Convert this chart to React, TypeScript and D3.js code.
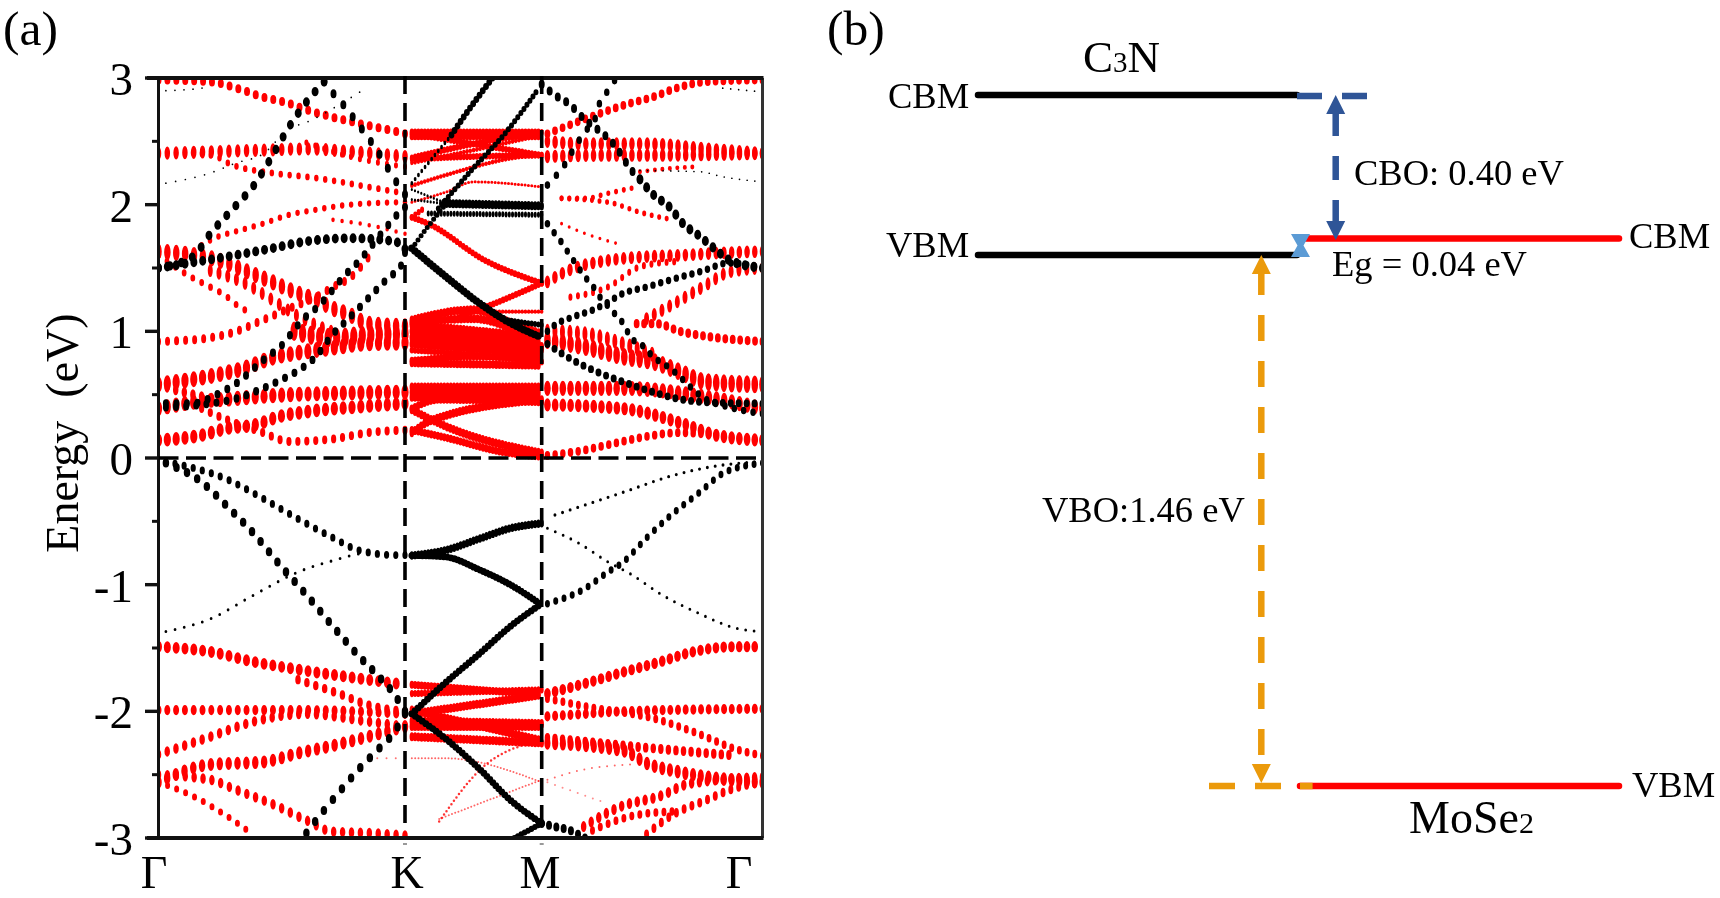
import React from "react";
import * as d3 from "d3";

type P = [number, number][];
const RED = "#ff0000";
const BLK = "#000000";

// ---------- Band values: [fraction along the path segment, energy in eV] ----------
// Gamma -> K, conduction side, red
const gkR1: P = [[0,2.985],[.21,2.97],[.316,2.92],[.424,2.85],[.53,2.8],[.6,2.75],[.708,2.69],[.816,2.64],[.958,2.58],[1,2.56]];
const gkR2: P = [[0,2.405],[.424,2.43],[.6,2.44],[.776,2.42],[1,2.38]];
const gkR3: P = [[.14,2.41],[.245,2.37],[.28,2.33],[.46,2.25],[.6,2.22],[.708,2.19],[.85,2.14],[1,2.09]];
const gkR4: P = [[.175,1.68],[.245,1.75],[.316,1.79],[.424,1.85],[.53,1.92],[.638,1.96],[.776,2.0],[1,2.02]];
const gkR5: P = [[.708,1.88],[.85,1.84],[1,1.77]];
const gkR6: P = [[0,1.63],[.245,1.56],[.35,1.48],[.46,1.39],[.566,1.3],[.638,1.25],[.708,1.18],[.776,1.13],[.85,1.06],[1,1.04]];
const gkR7: P = [[0,1.6],[.14,1.42],[.21,1.35],[.28,1.27],[.316,1.21],[.35,1.17]];
const gkR8: P = [[0,.92],[.175,.94],[.316,1.0],[.424,1.09],[.53,1.18],[.638,1.27],[.708,1.35],[.776,1.42],[.85,1.58]];
const gkR9: P = [[0,.58],[.245,.66],[.35,.71],[.46,.79],[.566,.83],[.708,.87],[.85,.905],[1,.91]];
const gkR10: P = [[.55,1.0],[.708,.95],[.85,.97],[1,.98]];
const gkR11: P = [[0,.39],[.14,.44],[.316,.47],[.53,.5],[.708,.51],[1,.52]];
const gkR12: P = [[0,.58],[.14,.5],[.28,.44]];
const gkR13: P = [[0,.14],[.175,.18],[.28,.235],[.388,.26],[.495,.33],[.6,.365],[.816,.405],[1,.43]];
const gkR14: P = [[.175,.39],[.28,.3],[.424,.2],[.53,.13],[.708,.15],[.85,.2],[1,.22]];
const gkR15: P = [[.21,1.48],[.35,1.38],[.46,1.25],[.566,1.12],[.7,1.0]];
const gkR16: P = [[.6,2.49],[.776,2.38],[1,2.3]];
// Gamma -> K, conduction side, black
const gkB1a: P = [[0,1.5],[.14,1.59],[.21,1.77],[.316,1.997],[.388,2.155],[.46,2.38],[.53,2.615],[.6,2.81],[.672,2.97]];
const gkB1b: P = [[.672,2.97],[.708,2.88],[.745,2.8],[.816,2.62],[.886,2.43],[.958,2.2],[1,2.08]];
const gkB2: P = [[0,1.5],[.28,1.59],[.46,1.655],[.6,1.71],[.776,1.735],[.958,1.71],[1,1.65]];
const gkB3: P = [[.03,.4],[.21,.43],[.316,.47],[.424,.55],[.495,.615],[.566,.69],[.638,.8],[.708,.98],[.745,1.05],[.816,1.19],[.85,1.26],[.92,1.4],[.995,1.56],[1,1.62]];
const gkB4: P = [[.03,.43],[.14,.43],[.245,.51],[.316,.59],[.424,.77],[.46,.825],[.495,.88],[.566,1.05],[.6,1.12],[.638,1.18],[.708,1.33],[.745,1.42],[.816,1.56],[.85,1.64],[.92,1.81],[.958,1.9],[1,1.98]];
const gkT1: P = [[.03,2.17],[.21,2.25],[.316,2.33],[.424,2.4],[.53,2.6],[.6,2.65],[.776,2.84],[.85,2.93]];
const gkT2: P = [[.03,2.9],[.175,2.92],[.21,2.95]];
// Gamma -> K, valence side, black
const gkV1: P = [[.03,-.03],[.28,-.17],[.424,-.32],[.566,-.48],[.708,-.63],[.816,-.73],[.958,-.766],[1,-.766]];
const gkV2: P = [[.03,-.04],[.175,-.19],[.28,-.385],[.388,-.6],[.495,-.85],[.6,-1.08],[.708,-1.33],[.816,-1.57],[.886,-1.71],[.958,-1.87],[1,-2.0]];
const gkV3: P = [[.03,-1.37],[.21,-1.27],[.388,-1.08],[.566,-.9],[.708,-.81],[.85,-.75],[1,-.77]];
const gkV4: P = [[.6,-2.96],[.672,-2.78],[.745,-2.61],[.816,-2.45],[.886,-2.31],[.958,-2.16],[1,-2.02]];
// Gamma -> K, valence side, red
const gkV5: P = [[0,-1.49],[.21,-1.53],[.388,-1.61],[.566,-1.67],[.776,-1.73],[1,-1.79]];
const gkV6: P = [[0,-1.99],[.566,-1.99],[1,-2.02]];
const gkV7: P = [[.566,-1.75],[.745,-1.87],[.85,-1.95],[1,-2.0]];
const gkV8: P = [[0,-2.34],[.21,-2.2],[.388,-2.08],[.6,-2.02],[.85,-2.08],[1,-2.12]];
const gkV9: P = [[0,-2.56],[.21,-2.42],[.424,-2.4],[.566,-2.33],[.708,-2.27],[.85,-2.2],[1,-2.12]];
const gkV10: P = [[0,-2.56],[.14,-2.67],[.28,-2.83],[.388,-2.98]];
const gkV11: P = [[0,-2.5],[.21,-2.54],[.316,-2.62],[.46,-2.73],[.6,-2.86],[.708,-2.95],[.85,-2.96],[1,-2.98]];
const gkV12: P = [[.85,-2.37],[1,-2.37]];
// K -> M, conduction side, red
const kmR1: P = [[.05,2.57],[1,2.57]];
const kmR2: P = [[.05,2.54],[1,2.54]];
const kmR3: P = [[.05,2.56],[.5,2.48],[1,2.39]];
const kmR4: P = [[.05,2.37],[.5,2.48],[1,2.57]];
const kmR5: P = [[.05,2.36],[.5,2.38],[1,2.39]];
const kmR6: P = [[.05,2.33],[.5,2.43],[1,2.55]];
const kmR7: P = [[.05,2.15],[.35,2.25],[.7,2.35],[1,2.4]];
const kmR8: P = [[.05,2.02],[.3,2.1],[.5,2.18],[1,2.14]];
const kmV0: P = [[.05,1.9],[.15,1.98]];
const kmV1: P = [[.05,1.9],[.17,1.85],[.585,1.56],[1,1.38]];
const kmV2: P = [[.41,1.12],[.585,1.19],[1,1.38]];
const kmRow: P = [[.5,1.155],[1,1.155]];
const kmM1: P = [[.05,1.09],[.5,1.17],[.75,1.08],[1,.98]];
const kmM2: P = [[.05,1.05],[1,.95]];
const kmM3: P = [[.05,1.0],[1,.9]];
const kmM4: P = [[.05,.95],[1,.86]];
const kmM5: P = [[.05,.9],[1,.82]];
const kmM6: P = [[.05,.85],[1,.78]];
const kmM7: P = [[.05,1.07],[.5,1.1],[1,.88]];
const kmM8: P = [[.05,.75],[1,.73]];
const kmM9: P = [[.05,.77],[.5,.8],[1,.76]];
const kmL1: P = [[.05,.56],[1,.56]];
const kmL2: P = [[.05,.52],[1,.52]];
const kmL3: P = [[.05,.48],[1,.48]];
const kmL4: P = [[.05,.39],[.25,.46],[1,.44]];
const kmL5: P = [[.05,.2],[.2,.3],[1,.46]];
const kmL6: P = [[.05,.38],[.32,.24],[1,.04]];
const kmL7: P = [[.05,.22],[.3,.16],[.7,.05],[1,.01]];
// K -> M, conduction side, black
const kmB1a: P = [[.05,2.17],[.34,2.55]];
const kmB1b: P = [[.34,2.55],[.414,2.668],[.64,3.0]];
const kmB2: P = [[.244,1.97],[.51,2.3],[.73,2.56],[.98,2.92]];
const kmB3: P = [[.28,2.01],[1,1.99]];
const kmB3b: P = [[.05,2.12],[.28,2.02]];
const kmB3c: P = [[.05,2.04],[.28,2.01]];
const kmB4: P = [[.17,1.93],[1,1.92]];
const kmB5: P = [[.05,1.655],[.244,1.48],[.56,1.21],[.73,1.09],[1,.95]];
const kmB6: P = [[.05,1.655],[.17,1.83],[.28,1.98]];
const kmB7: P = [[.73,1.09],[1,1.05]];
// K -> M, valence side
const kmV3: P = [[.05,-.77],[.29,-.73],[.55,-.635],[.77,-.555],[1,-.516]];
const kmV4: P = [[.05,-.77],[.29,-.78],[.55,-.885],[.77,-1.0],[1,-1.16]];
const kmV5: P = [[.05,-2.02],[.29,-1.78],[.55,-1.54],[.77,-1.33],[1,-1.15]];
const kmV6: P = [[.05,-2.02],[.29,-2.21],[.55,-2.46],[.77,-2.7],[1,-2.885]];
const kmV7: P = [[.8,-3.0],[1,-2.885]];
const kmV8: P = [[.05,-1.79],[1,-1.87]];
const kmV9: P = [[.05,-1.86],[1,-1.83]];
const kmV10: P = [[.05,-2.02],[1,-1.87]];
const kmV11: P = [[.05,-2.08],[1,-2.1]];
const kmV12: P = [[.05,-1.99],[1,-2.23]];
const kmV13: P = [[.05,-2.2],[1,-2.25]];
const kmV14: P = [[.05,-2.12],[1,-2.12]];
const kmV15: P = [[.25,-2.87],[.55,-2.46],[1,-2.23]];
const kmV16: P = [[.25,-2.85],[1,-2.54]];
const kmV17: P = [[.05,-2.37],[.29,-2.37],[1,-2.56]];
// M -> Gamma, conduction side, black
const mgB1: P = [[0,2.95],[.06,2.865],[.128,2.79],[.196,2.67],[.264,2.58],[.33,2.47],[.407,2.27],[.445,2.2]];
const mgB1b: P = [[.445,2.2],[.505,2.08],[.58,1.98],[.64,1.85],[.716,1.75],[.784,1.65],[.852,1.56],[1,1.5]];
const mgB2: P = [[.026,2.155],[.06,2.22],[.095,2.29],[.128,2.39],[.16,2.48],[.196,2.58],[.234,2.64],[.264,2.81],[.3,2.9],[.33,2.98]];
const mgB3: P = [[.026,1.85],[.06,1.77],[.095,1.69],[.128,1.6],[.16,1.52],[.196,1.43],[.234,1.35],[.264,1.27],[.3,1.2],[.33,1.14],[.37,1.06],[.407,.94],[.445,.905],[.505,.8],[.58,.71],[.747,.46],[.852,.4],[1,.35]];
const mgB4: P = [[.026,1.0],[.06,1.05],[.144,1.115],[.234,1.17],[.3,1.23],[.37,1.3],[.475,1.35],[.61,1.42],[.716,1.47],[.852,1.54],[1,1.5]];
const mgB5: P = [[.026,.9],[.095,.82],[.188,.73],[.264,.67],[.37,.6],[.505,.52],[.61,.47],[.747,.44],[1,.43]];
const mgT1: P = [[.445,2.27],[.716,2.26],[.822,2.22],[1,2.18]];
const mgT2: P = [[.82,2.92],[1,2.89]];
// M -> Gamma, conduction side, red
const mgR1: P = [[.026,2.56],[.128,2.63],[.264,2.72],[.4,2.8],[.505,2.85],[.61,2.92],[.747,2.97],[1,2.985]];
const mgR2: P = [[.026,2.38],[.264,2.39],[.475,2.39],[1,2.405]];
const mgR3: P = [[.026,2.5],[.188,2.48],[.475,2.48],[.747,2.44],[1,2.405]];
const mgR4: P = [[.445,2.26],[.61,2.29],[.716,2.3]];
const mgR5: P = [[.09,2.05],[.2,2.05],[.3,2.09],[.407,2.13]];
const mgR6: P = [[.09,2.05],[.3,2.02],[.445,1.94],[.566,1.89]];
const mgR7: P = [[.09,1.85],[.2,1.77],[.37,1.68]];
const mgR8: P = [[.026,1.39],[.095,1.46],[.166,1.51],[.3,1.56],[.475,1.59],[.626,1.6],[.822,1.62],[1,1.63]];
const mgR9: P = [[.13,1.27],[.3,1.35],[.445,1.51],[.6,1.55]];
const mgR10: P = [[.475,1.1],[.58,1.2],[.73,1.35],[.852,1.47],[1,1.5]];
const mgR11: P = [[.43,1.06],[.52,1.06],[.626,1.0],[.747,.96],[1,.92]];
const mgR12: P = [[.026,.93],[.188,.88],[.37,.8],[.505,.76],[.626,.68],[.747,.6],[1,.58]];
const mgR13: P = [[.026,1.0],[.2,.98],[.37,.9],[.5,.82]];
const mgR14: P = [[.026,.55],[.37,.55],[.747,.48],[1,.39]];
const mgR15: P = [[.026,.42],[.37,.39],[.64,.27],[.79,.18],[1,.14]];
const mgR16: P = [[.026,.02],[.188,.06],[.34,.12],[.475,.17],[.626,.2],[.79,.18],[1,.14]];
// M -> Gamma, valence side, black
const mgV1: P = [[.026,-1.15],[.196,-1.03],[.3,-.9],[.37,-.82],[.475,-.63],[.58,-.46],[.716,-.27],[.822,-.12],[1,-.04]];
const mgV2: P = [[.06,-.45],[.37,-.27],[.6,-.135],[.822,-.055],[1,-.03]];
const mgV3: P = [[.026,-.555],[.166,-.67],[.3,-.82],[.407,-.92],[.535,-1.07],[.716,-1.23],[.882,-1.345],[1,-1.37]];
const mgV4: P = [[0,-2.885],[.06,-2.91],[.128,-2.94],[.196,-3.0]];
// M -> Gamma, valence side, red
const mgV5: P = [[.026,-1.86],[.196,-1.78],[.37,-1.69],[.535,-1.61],[.686,-1.53],[.867,-1.49],[1,-1.49]];
const mgV6: P = [[.026,-2.04],[.196,-2.02],[.37,-2.0],[1,-1.98]];
const mgV7: P = [[.026,-1.9],[.196,-1.96],[.535,-2.07],[.7,-2.17],[.882,-2.3],[1,-2.35]];
const mgV8: P = [[.026,-2.21],[.37,-2.27],[.747,-2.33],[.882,-2.35]];
const mgV9: P = [[.026,-2.25],[.37,-2.31],[.475,-2.41],[.626,-2.48],[1,-2.56]];
const mgV10: P = [[.19,-2.91],[.36,-2.75],[.535,-2.67],[.67,-2.57],[1,-2.52]];
const mgV11: P = [[.23,-2.94],[.4,-2.83],[.59,-2.79]];
const mgV12: P = [[.475,-2.97],[.59,-2.82],[.747,-2.7],[.867,-2.61],[1,-2.56]];
const mgV13: P = [[.026,-2.54],[.19,-2.46],[.4,-2.42]];
const mgV14: P = [[.026,-2.56],[.3,-2.73]];

// ---------- Panel (b) levels (eV relative to the C3N VBM) ----------
const levelEnergies = [-1.46, 0, 0.04, 0.44];
const C3N_VBM = 0, C3N_CBM = 0.44, MOSE2_CBM = 0.04, MOSE2_VBM = -1.46;

// ---------- Tick labels ----------
const energyTicks = [3, 2, 1, 0, -1, -2, -3];
const minorTicks = [2.5, 1.5, 0.5, -0.5, -1.5, -2.5];
const kLabels = ["Γ", "K", "M", "Γ"];

// Run = values, colour, dot width, vertical stretch of the dot, opacity
type Run = [P, string, number, number, number?];
const gkRuns: Run[] = [
  [gkR1,RED,6,1.5],[gkR2,RED,5.5,2.4],[gkR3,RED,4.5,1.5],[gkR4,RED,4.5,1.4],[gkR5,RED,3.5,1.3],[gkR6,RED,6.5,2.5],[gkR7,RED,4.8,1.5],
  [gkR8,RED,5,1.8],[gkR9,RED,7.2,2.2],[gkR10,RED,7.2,2.7],[gkR11,RED,7.2,2.1],[gkR12,RED,5.5,2],[gkR13,RED,7.2,1.9],[gkR14,RED,5.2,1.7],[gkR15,RED,5,2.6],[gkR16,RED,4,1.6],
  [gkV5,RED,7,1.7],[gkV6,RED,6,1.7],[gkV7,RED,5.5,1.7],[gkV8,RED,5.5,1.9],[gkV9,RED,6.5,2],[gkV10,RED,5,1.4],[gkV11,RED,5.5,1.9],[gkV12,RED,2,1,.55],
];
const kmRuns: Run[] = [
  [kmR1,RED,4.5,1.8],[kmR2,RED,4.5,1.8],[kmR3,RED,4,1.7],[kmR4,RED,4,1.7],[kmR5,RED,4,1.7],[kmR6,RED,3.5,1.4],[kmR7,RED,3.5,1.3],[kmR8,RED,3,1],
  [kmV0,RED,4,1.6],[kmV1,RED,4.5,1.5],[kmV2,RED,4.5,1.5],[kmRow,RED,3.5,1.2],
  [kmM1,RED,4.5,2],[kmM2,RED,4.5,2.2],[kmM3,RED,4.5,2.2],[kmM4,RED,4.5,2.2],[kmM5,RED,4.5,2],[kmM6,RED,4.5,1.4],[kmM7,RED,4.5,2],[kmM8,RED,4.5,1.9],[kmM9,RED,4.5,1.6],
  [kmL1,RED,4.5,2],[kmL2,RED,4.5,2],[kmL3,RED,4.5,2],[kmL4,RED,4.5,1.8],[kmL5,RED,4.5,2],[kmL6,RED,4.5,2],[kmL7,RED,4.5,1.8],
  [kmV8,RED,4.5,1.8],[kmV9,RED,4,1.8],[kmV10,RED,4.5,2],[kmV11,RED,4.5,2.2],[kmV12,RED,4.5,2],[kmV13,RED,4.5,2],[kmV14,RED,4.5,2],
  [kmV15,RED,2.5,1,.8],[kmV16,RED,2,1,.6],[kmV17,RED,2,1,.6],
];
const mgRuns: Run[] = [
  [mgR1,RED,5.8,1.5],[mgR2,RED,5.5,2.4],[mgR3,RED,5.5,2.4],[mgR4,RED,4,1.2],[mgR5,RED,4,1.4],[mgR6,RED,4,1.4],[mgR7,RED,3,1.2],[mgR8,RED,5.5,2.3],
  [mgR9,RED,4,1.8],[mgR10,RED,5,2.6],[mgR11,RED,5.8,1.6],[mgR12,RED,6.6,2.7],[mgR13,RED,5,3],[mgR14,RED,6.6,2.3],[mgR15,RED,6.6,2],[mgR16,RED,5.5,1.6],
  [mgV5,RED,6.6,1.7],[mgV6,RED,6,1.7],[mgV7,RED,5,1.7],[mgV8,RED,5.5,1.8],[mgV9,RED,6.2,2.2],[mgV10,RED,5.5,2],[mgV11,RED,5,1.7],[mgV12,RED,5,1.9],[mgV13,RED,2,1,.6],[mgV14,RED,2,1,.45],
];
const gkBlack: Run[] = [
  [gkB1a,BLK,7,1.35],[gkB1b,BLK,6,1.5],[gkB2,BLK,7,1.4],[gkB3,BLK,6,1.4],[gkB4,BLK,6,1.4],[gkT1,BLK,1.7,1],[gkT2,BLK,1.7,1],
  [gkV1,BLK,5.2,1.5],[gkV2,BLK,6.5,1.4],[gkV3,BLK,2.8,1.1],[gkV4,BLK,6.5,1.4],
];
const kmBlack: Run[] = [
  [kmB1a,BLK,2.8,1.6],[kmB1b,BLK,5.8,1.2],[kmB2,BLK,5,1.2],[kmB3,BLK,4.5,2],[kmB3b,BLK,2.2,1.4],[kmB3c,BLK,2.2,1.4],[kmB4,BLK,3,2],[kmB5,BLK,7.5,1],[kmB6,BLK,5,1],[kmB7,BLK,4,1.5],
  [kmV3,BLK,4.2,2],[kmV4,BLK,6.8,1],[kmV5,BLK,6.8,1],[kmV6,BLK,6.8,1],[kmV7,BLK,5.5,1.1],
];
const mgBlack: Run[] = [
  [mgB1,BLK,6,1.5],[mgB1b,BLK,7,1.45],[mgB2,BLK,5.5,1.4],[mgB3,BLK,5.5,1.35],[mgB4,BLK,5.5,1.35],[mgB5,BLK,6,1.3],[mgT1,BLK,1.7,1],[mgT2,BLK,1.7,1],
  [mgV1,BLK,5,1.5],[mgV2,BLK,3,1.1],[mgV3,BLK,2.8,1.1],[mgV4,BLK,6,1.5],
];

// ---------- Scales ----------
const yE = d3.scaleLinear().domain([3, -3]).range([78, 838]);
const xGK = d3.scaleLinear().domain([0, 1]).range([158.5, 405]);
const xKM = d3.scaleLinear().domain([0, 1]).range([405, 541.7]);
const xMG = d3.scaleLinear().domain([0, 1]).range([541.7, 762.5]);
const yLevel = d3.scaleLinear().domain(levelEnergies).range([786, 255, 238.5, 95]);

function DotRun({ run, x, perUnit }: { run: Run; x: d3.ScaleLinear<number, number>; perUnit: number }) {
  const [pts, color, w, ar, op] = run;
  const path = d3.line<[number, number]>().x((d) => x(d[0])).y((d) => yE(d[1]) / ar).curve(d3.curveMonotoneX)(pts) as string;
  const n = Math.max(1, Math.round((pts[pts.length - 1][0] - pts[0][0]) * perUnit));
  return (
    <g transform={`scale(1,${ar})`}>
      <path d={path} pathLength={n} fill="none" stroke={color} strokeWidth={w} strokeLinecap="round" strokeDasharray="0 1" opacity={op ?? 1} />
    </g>
  );
}

const serif = "'Liberation Serif', serif";
const ORANGE = "#eb9a0b";
const BLUE = "#2f5597";
const LBLUE = "#5b9bd5";

function Up({ x, tip, c }: { x: number; tip: number; c: string }) {
  return <polygon points={`${x},${tip} ${x - 9.5},${tip + 19} ${x + 9.5},${tip + 19}`} fill={c} />;
}
function Down({ x, tip, c }: { x: number; tip: number; c: string }) {
  return <polygon points={`${x},${tip} ${x - 9.5},${tip - 19} ${x + 9.5},${tip - 19}`} fill={c} />;
}

export default function App() {
  const xT = 158.5, xR = 762.5, xK = xGK(1), xM = xKM(1);
  return (
    <svg width={1720} height={898} viewBox="0 0 1720 898" style={{ position: "absolute", left: 0, top: 0, background: "#fff", filter: "blur(0.55px)" }}>
      <defs>
        <clipPath id="plot"><rect x={xT} y={76} width={xR - xT} height={764} /></clipPath>
      </defs>
      <g clipPath="url(#plot)">
        {gkRuns.map((r, i) => <DotRun key={"a" + i} run={r} x={xGK} perUnit={28} />)}
        {mgRuns.map((r, i) => <DotRun key={"b" + i} run={r} x={xMG} perUnit={29} />)}
        {kmRuns.map((r, i) => <DotRun key={"c" + i} run={r} x={xKM} perUnit={42} />)}
        {gkBlack.map((r, i) => <DotRun key={"d" + i} run={r} x={xGK} perUnit={28} />)}
        {mgBlack.map((r, i) => <DotRun key={"e" + i} run={r} x={xMG} perUnit={29} />)}
        {kmBlack.map((r, i) => <DotRun key={"f" + i} run={r} x={xKM} perUnit={42} />)}
      </g>
      {/* frame */}
      <line x1={xT} x2={xT} y1={78} y2={838} stroke="#111" strokeWidth={3} />
      <line x1={xR} x2={xR} y1={78} y2={838} stroke="#333" strokeWidth={3} />
      <line x1={147} x2={xR + 1} y1={yE(3)} y2={yE(3)} stroke="#111" strokeWidth={4} />
      <line x1={147} x2={xR + 1} y1={yE(-3)} y2={yE(-3)} stroke="#111" strokeWidth={4} />
      <line x1={xK} x2={xK} y1={76} y2={830} stroke="#000" strokeWidth={3.6} strokeDasharray="18 9" />
      <line x1={xM} x2={xM} y1={76} y2={830} stroke="#000" strokeWidth={3.6} strokeDasharray="18 9" />
      <line x1={xT} x2={xR} y1={yE(0)} y2={yE(0)} stroke="#000" strokeWidth={3.4} strokeDasharray="20 7.5" />
      <line x1={xK - 2} x2={xK + 2} y1={844} y2={844} stroke="#777" strokeWidth={1.5} />
      <line x1={xM - 2} x2={xM + 2} y1={844} y2={844} stroke="#777" strokeWidth={1.5} />
      {energyTicks.map((t) => (
        <g key={t}>
          <line x1={145} x2={xT} y1={yE(t)} y2={yE(t)} stroke="#111" strokeWidth={3.4} />
          <text x={133} y={yE(t) + 17} textAnchor="end" fontFamily={serif} fontSize={47} fill="#000">{t}</text>
        </g>
      ))}
      {minorTicks.map((t) => <line key={t} x1={152} x2={xT} y1={yE(t)} y2={yE(t)} stroke="#111" strokeWidth={3} />)}
      {kLabels.map((l, i) => (
        <text key={i} x={[154, 407, 540, 739][i]} y={887.5} textAnchor="middle" fontFamily={serif} fontSize={46} fill="#000">{l}</text>
      ))}
      <text transform="translate(78,433) rotate(-90)" textAnchor="middle" fontFamily={serif} fontSize={46} fill="#000" xmlSpace="preserve">Energy  (eV)</text>
      <text x={3} y={44.5} fontFamily={serif} fontSize={49.5} fill="#000">(a)</text>

      {/* panel b */}
      <text x={827} y={44.5} fontFamily={serif} fontSize={49.5} fill="#000">(b)</text>
      <text x={1083} y={72} fontFamily={serif} fontSize={45} fill="#000">C<tspan fontSize={29}>3</tspan>N</text>
      <line x1={978} x2={1297} y1={yLevel(C3N_CBM)} y2={yLevel(C3N_CBM)} stroke="#000" strokeWidth={6.5} strokeLinecap="round" />
      <line x1={978} x2={1297} y1={yLevel(C3N_VBM)} y2={yLevel(C3N_VBM)} stroke="#000" strokeWidth={6.5} strokeLinecap="round" />
      <line x1={1305} x2={1619} y1={yLevel(MOSE2_CBM)} y2={yLevel(MOSE2_CBM)} stroke={RED} strokeWidth={6.5} strokeLinecap="round" />
      <line x1={1300} x2={1619} y1={yLevel(MOSE2_VBM)} y2={yLevel(MOSE2_VBM)} stroke={RED} strokeWidth={6.5} strokeLinecap="round" />
      <line x1={1300} x2={1312.6} y1={yLevel(MOSE2_VBM)} y2={yLevel(MOSE2_VBM)} stroke={ORANGE} strokeWidth={6.5} />
      {/* CBO */}
      <line x1={1297} x2={1368} y1={yLevel(C3N_CBM) + 1} y2={yLevel(C3N_CBM) + 1} stroke={BLUE} strokeWidth={6.5} strokeDasharray="25 20" />
      <Up x={1335.7} tip={95} c={BLUE} />
      <Down x={1335.7} tip={240} c={BLUE} />
      <line x1={1335.7} x2={1335.7} y1={112} y2={222} stroke={BLUE} strokeWidth={6.5} strokeDasharray="24 20" />
      {/* Eg */}
      <polygon points="1291,234 1310,234 1303.5,245.5 1310,257 1291,257 1297.5,245.5" fill={LBLUE} />
      {/* VBO */}
      <Up x={1261.3} tip={255} c={ORANGE} />
      <Down x={1261.3} tip={783} c={ORANGE} />
      <line x1={1261.3} x2={1261.3} y1={269} y2={755} stroke={ORANGE} strokeWidth={6.5} strokeDasharray="26 20" />
      <line x1={1209} x2={1282} y1={yLevel(MOSE2_VBM)} y2={yLevel(MOSE2_VBM)} stroke={ORANGE} strokeWidth={6.5} strokeDasharray="26 20" />

      <g fontFamily={serif} fontSize={36.5} fill="#000">
        <text x={888} y={108}>CBM</text>
        <text x={886} y={257}>VBM</text>
        <text x={1629} y={248}>CBM</text>
        <text x={1632} y={797}>VBM</text>
        <text x={1354} y={185}>CBO: 0.40 eV</text>
        <text x={1332} y={276}>Eg = 0.04 eV</text>
        <text x={1042} y={522}>VBO:1.46 eV</text>
      </g>
      <text x={1409} y={833} fontFamily={serif} fontSize={46} fill="#000">MoSe<tspan fontSize={30}>2</tspan></text>
    </svg>
  );
}
